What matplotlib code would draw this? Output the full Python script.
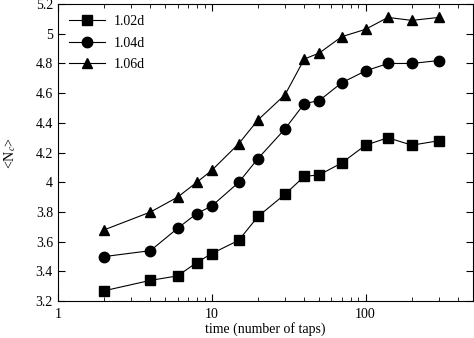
import numpy as np
import matplotlib
matplotlib.use('Agg')
import matplotlib.pyplot as plt

plt.rcParams['font.family'] = ['Liberation Serif', 'DejaVu Serif']
plt.rcParams['mathtext.fontset'] = 'stix'
plt.rcParams['font.size'] = 10

# time (number of taps) and mean N_c for the three densities
taps   = [2, 4, 6, 8, 10, 15, 20, 30, 40, 50, 70, 100, 140, 200, 300]
nc_102 = [3.27, 3.34, 3.37, 3.46, 3.52, 3.61, 3.77, 3.92, 4.04, 4.05, 4.13, 4.25, 4.30, 4.25, 4.28]
nc_104 = [3.50, 3.54, 3.69, 3.79, 3.84, 4.00, 4.16, 4.36, 4.53, 4.55, 4.67, 4.75, 4.80, 4.80, 4.82]
nc_106 = [3.68, 3.80, 3.90, 4.00, 4.08, 4.26, 4.42, 4.59, 4.83, 4.87, 4.98, 5.03, 5.11, 5.09, 5.11]
labels = ['1.02d', '1.04d', '1.06d']

fig = plt.figure(figsize=(4.74, 3.38), dpi=100)
ax = fig.add_axes([0.122, 0.109, 0.876, 0.879])

ax.plot(taps, nc_102, 's-', color='k', lw=0.8, ms=7, label=labels[0])
ax.plot(taps, nc_104, 'o-', color='k', lw=0.8, ms=7.5, label=labels[1])
ax.plot(taps, nc_106, '^-', color='k', lw=0.8, ms=7, label=labels[2])

ax.set_xscale('log')
ax.set_xlim(1, 500)
ax.set_ylim(3.2, 5.2)
ax.set_yticks(np.arange(3.2, 5.21, 0.2))
ax.set_yticklabels(['3.2', '3.4', '3.6', '3.8', '4', '4.2', '4.4', '4.6', '4.8', '5', '5.2'])
ax.set_xticks([1, 10, 100])
ax.set_xticklabels(['1', '10', '100'])
ax.tick_params(which='both', direction='in', top=True, right=True)
ax.tick_params(which='major', length=5, width=0.8)
ax.tick_params(which='minor', length=3, width=0.6)
ax.tick_params(axis='x', pad=5)

ax.set_xlabel('time (number of taps)', labelpad=1)
ax.set_ylabel('<N$_c$>', labelpad=13)

ax.legend(loc='upper left', frameon=False, handlelength=2.6, borderpad=0.3,
          labelspacing=0.6, handletextpad=0.6)

fig.savefig('out.png', dpi=100)
